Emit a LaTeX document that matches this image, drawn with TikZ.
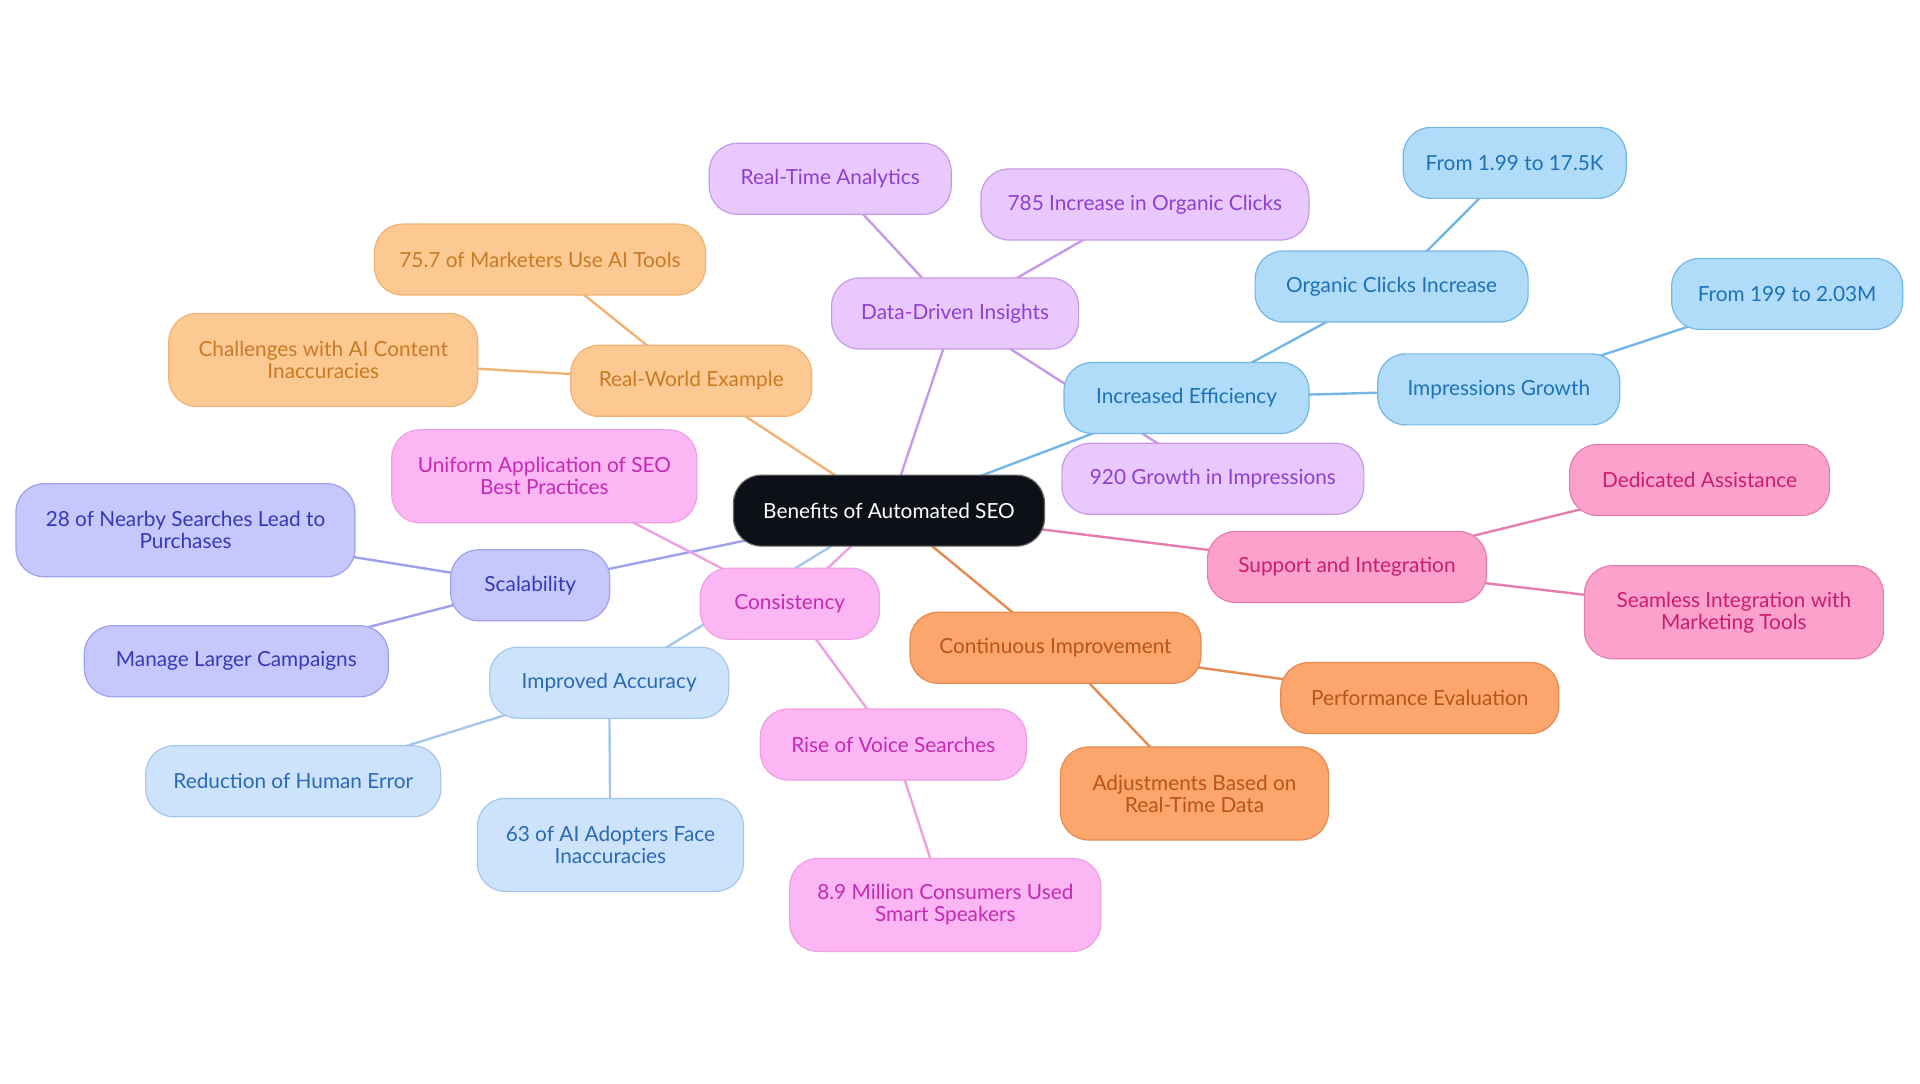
\documentclass[tikz,border=0pt]{standalone}
\usepackage{fontspec}
\setmainfont{Lato}
\usetikzlibrary{backgrounds}
\definecolor{cfill}{HTML}{0D1117}
\definecolor{bfill}{HTML}{B0DCFA}\definecolor{btext}{HTML}{1B72B8}\definecolor{bdraw}{HTML}{74B7E6}
\definecolor{pfill}{HTML}{E9C9FD}\definecolor{ptext}{HTML}{8E3FD0}\definecolor{pdraw}{HTML}{C79AE9}
\definecolor{ofill}{HTML}{FDC993}\definecolor{otext}{HTML}{C97A22}\definecolor{odraw}{HTML}{F1B275}
\definecolor{ifill}{HTML}{C6C8FD}\definecolor{itext}{HTML}{3539B5}\definecolor{idraw}{HTML}{9EA1EC}
\definecolor{kfill}{HTML}{FCB6F3}\definecolor{ktext}{HTML}{C42AB3}\definecolor{kdraw}{HTML}{EDA0E2}
\definecolor{lfill}{HTML}{CDE3FB}\definecolor{ltext}{HTML}{2A69B5}\definecolor{ldraw}{HTML}{A5C7EE}
\definecolor{dfill}{HTML}{FCA56C}\definecolor{dtext}{HTML}{B8541C}\definecolor{ddraw}{HTML}{E58B52}
\definecolor{rfill}{HTML}{FCA1CB}\definecolor{rtext}{HTML}{CC1D6C}\definecolor{rdraw}{HTML}{E57EAF}
\begin{document}
\begin{tikzpicture}[x=1.2245pt,y=-1.2245pt,
  base/.style={rounded corners=28pt, line width=1.2pt, align=center,
    font=\fontsize{20.8}{22}\selectfont, inner sep=0pt, minimum height=71pt},
  two/.style={minimum height=93pt},
  cnode/.style={base, fill=cfill, draw=black!60, text=white},
  bnode/.style={base, fill=bfill, draw=bdraw, text=btext},
  pnode/.style={base, fill=pfill, draw=pdraw, text=ptext},
  onode/.style={base, fill=ofill, draw=odraw, text=otext},
  inode/.style={base, fill=ifill, draw=idraw, text=itext},
  knode/.style={base, fill=kfill, draw=kdraw, text=ktext},
  lnode/.style={base, fill=lfill, draw=ldraw, text=ltext},
  dnode/.style={base, fill=dfill, draw=ddraw, text=dtext},
  rnode/.style={base, fill=rfill, draw=rdraw, text=rtext},
  edge/.style={line width=2.4pt}
]
\useasboundingbox (0,0) rectangle (1568,884.5);
% center
\node[cnode, minimum width=311pt] (c) at (726,417) {Benefits of Automated SEO};
% increased efficiency
\node[bnode, minimum width=245pt] (ie) at (969,325) {Increased Efficiency};
\node[bnode, minimum width=273pt] (oci) at (1136.5,234) {Organic Clicks Increase};
\node[bnode, minimum width=223pt] (f1) at (1237,133) {From 1.99 to 17.5K};
\node[bnode, minimum width=242pt] (ig) at (1224,318) {Impressions Growth};
\node[bnode, minimum width=231pt] (f2) at (1459.5,240) {From 199 to 2.03M};
% data-driven
\node[pnode, minimum width=247pt] (ddi) at (780,256) {Data-Driven Insights};
\node[pnode, minimum width=242pt] (rta) at (678,146) {Real-Time Analytics};
\node[pnode, minimum width=328pt] (p785) at (935,167) {785 Increase in Organic Clicks};
\node[pnode, minimum width=302pt] (p920) at (990.5,391) {920 Growth in Impressions};
% real-world
\node[onode, minimum width=241pt] (rwe) at (564.5,311) {Real-World Example};
\node[onode, minimum width=331pt] (o757) at (441,212) {75.7 of Marketers Use AI Tools};
\node[onode, two, minimum width=309pt] (ch) at (264,294) {Challenges with AI Content\\Inaccuracies};
% scalability
\node[inode, minimum width=159pt] (sc) at (433,478) {Scalability};
\node[inode, two, minimum width=339pt] (i28) at (151.5,433) {28 of Nearby Searches Lead to\\Purchases};
\node[inode, minimum width=304pt] (mlc) at (193,540) {Manage Larger Campaigns};
% improved accuracy
\node[lnode, minimum width=239pt] (ia) at (497.5,557.5) {Improved Accuracy};
\node[lnode, minimum width=295pt] (rhe) at (239.5,638) {Reduction of Human Error};
\node[lnode, two, minimum width=266pt] (l63) at (498.5,690) {63 of AI Adopters Face\\Inaccuracies};
% consistency
\node[knode, minimum width=179pt] (co) at (645,493) {Consistency};
\node[knode, two, minimum width=305pt] (ua) at (444.5,389) {Uniform Application of SEO\\Best Practices};
\node[knode, minimum width=266pt] (rvs) at (729.5,608) {Rise of Voice Searches};
\node[knode, two, minimum width=311pt] (k89) at (772,739) {8.9 Million Consumers Used\\Smart Speakers};
% continuous improvement
\node[dnode, minimum width=291pt] (ci) at (862,529) {Continuous Improvement};
\node[dnode, minimum width=278pt] (pe) at (1159.5,570) {Performance Evaluation};
\node[dnode, two, minimum width=268pt] (adj) at (975.5,648) {Adjustments Based on\\Real-Time Data};
% support
\node[rnode, minimum width=279pt] (si) at (1100,463) {Support and Integration};
\node[rnode, minimum width=260pt] (da) at (1388,392) {Dedicated Assistance};
\node[rnode, two, minimum width=299pt] (sm) at (1416,500) {Seamless Integration with\\Marketing Tools};
\begin{pgfonlayer}{background}
\fill[white] (0,0) rectangle (1568,884.5);
\draw[edge, bdraw] (c.center) -- (ie.center);
\draw[edge, bdraw] (ie.center) -- (oci.center);
\draw[edge, bdraw] (oci.center) -- (f1.center);
\draw[edge, bdraw] (ie.center) -- (ig.center);
\draw[edge, bdraw] (ig.center) -- (f2.center);
\draw[edge, pdraw] (c.center) -- (ddi.center);
\draw[edge, pdraw] (ddi.center) -- (rta.center);
\draw[edge, pdraw] (ddi.center) -- (p785.center);
\draw[edge, pdraw] (ddi.center) -- (p920.center);
\draw[edge, odraw] (c.center) -- (rwe.center);
\draw[edge, odraw] (rwe.center) -- (o757.center);
\draw[edge, odraw] (rwe.center) -- (ch.center);
\draw[edge, idraw] (c.center) -- (sc.center);
\draw[edge, idraw] (sc.center) -- (i28.center);
\draw[edge, idraw] (sc.center) -- (mlc.center);
\draw[edge, ldraw] (c.center) -- (ia.center);
\draw[edge, ldraw] (ia.center) -- (rhe.center);
\draw[edge, ldraw] (ia.center) -- (l63.center);
\draw[edge, kdraw] (c.center) -- (co.center);
\draw[edge, kdraw] (co.center) -- (ua.center);
\draw[edge, kdraw] (co.center) -- (rvs.center);
\draw[edge, kdraw] (rvs.center) -- (k89.center);
\draw[edge, ddraw] (c.center) -- (ci.center);
\draw[edge, ddraw] (ci.center) -- (pe.center);
\draw[edge, ddraw] (ci.center) -- (adj.center);
\draw[edge, rdraw] (c.center) -- (si.center);
\draw[edge, rdraw] (si.center) -- (da.center);
\draw[edge, rdraw] (si.center) -- (sm.center);
\end{pgfonlayer}
\end{tikzpicture}
\end{document}
